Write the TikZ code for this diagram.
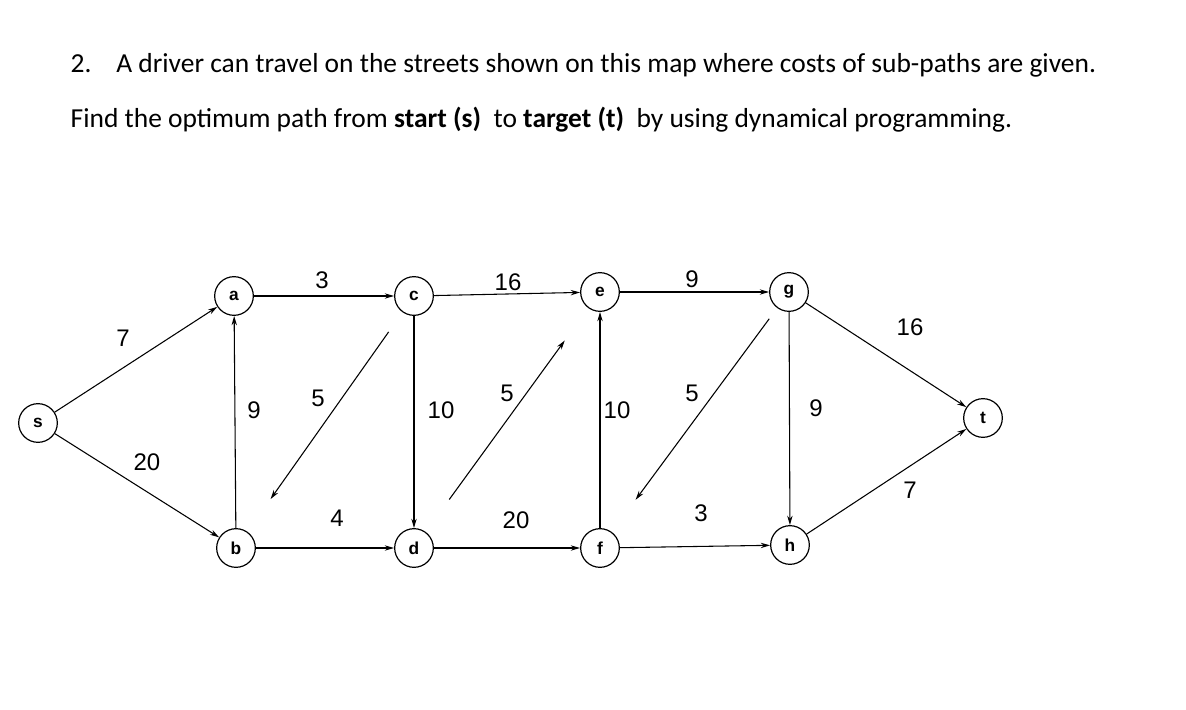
\documentclass[tikz,border=0pt]{standalone}
\usepackage{fontspec}
\setmainfont{Carlito}
\newfontfamily\arial{Liberation Sans}
\usetikzlibrary{arrows.meta}
\begin{document}
\begin{tikzpicture}[x=0.75pt,y=-0.75pt,
  vtx/.style={circle,draw,line width=0.9pt,minimum size=29pt,inner sep=0pt,font=\arial\bfseries\fontsize{13}{13}\selectfont},
  edge/.style={line width=0.8pt,-{Stealth[length=7pt,width=4pt]}},
  lab/.style={font=\arial\fontsize{18}{18}\selectfont}]
\useasboundingbox (0,0) rectangle (1186,710);
\node[anchor=west,font=\fontsize{20.6}{24}\selectfont] (l1) at (66,65) {2.\hspace{0.9em}A driver can travel on the streets shown on this map where costs of sub-paths are given.};
\node[anchor=west,font=\fontsize{20.6}{24}\selectfont] (l2) at (66,120) {Find the optimum path from \textbf{start (s)}\ \ to \textbf{target (t)}\ \ by using dynamical programming.};
\node[vtx] (s) at (38,423) {s};
\node[vtx] (a) at (234,296) {a};
\node[vtx] (c) at (414,296) {c};
\node[vtx] (e) at (600,292) {e};
\node[vtx] (g) at (789,292) {g};
\node[vtx] (t) at (983,418) {t};
\node[vtx] (b) at (236,548) {b};
\node[vtx] (d) at (414,548) {d};
\node[vtx] (f) at (600,548) {f};
\node[vtx] (h) at (790,545) {h};
\draw[edge] (s) -- (a);
\draw[edge] (s) -- (b);
\draw[edge] (b) -- (a);
\draw[edge] (a) -- (c);
\draw[edge,shorten <=18pt,shorten >=30pt] (c) -- (b);
\draw[edge] (c) -- (d);
\draw[edge] (c) -- (e);
\draw[edge,shorten <=30pt,shorten >=30pt] (d) -- (e);
\draw[edge] (f) -- (e);
\draw[edge] (e) -- (g);
\draw[edge,shorten <=10pt,shorten >=30pt] (g) -- (f);
\draw[edge] (g) -- (h);
\draw[edge] (b) -- (d);
\draw[edge] (d) -- (f);
\draw[edge] (f) -- (h);
\draw[edge] (g) -- (t);
\draw[edge] (h) -- (t);
\node[lab] (n1) at (123,338) {7};
\node[lab] (n2) at (147,462) {20};
\node[lab] (n3) at (254,410) {9};
\node[lab] (n4) at (318,398) {5};
\node[lab] (n5) at (322,280) {3};
\node[lab] (n6) at (337,518) {4};
\node[lab] (n7) at (441,410) {10};
\node[lab] (n8) at (508,282) {16};
\node[lab] (n9) at (507,393) {5};
\node[lab] (n10) at (516,520) {20};
\node[lab] (n11) at (617,410) {10};
\node[lab] (n12) at (692,279) {9};
\node[lab] (n13) at (692,393) {5};
\node[lab] (n14) at (701,513) {3};
\node[lab] (n15) at (816,408) {9};
\node[lab] (n16) at (910,327) {16};
\node[lab] (n17) at (910,490) {7};
\end{tikzpicture}
\end{document}
